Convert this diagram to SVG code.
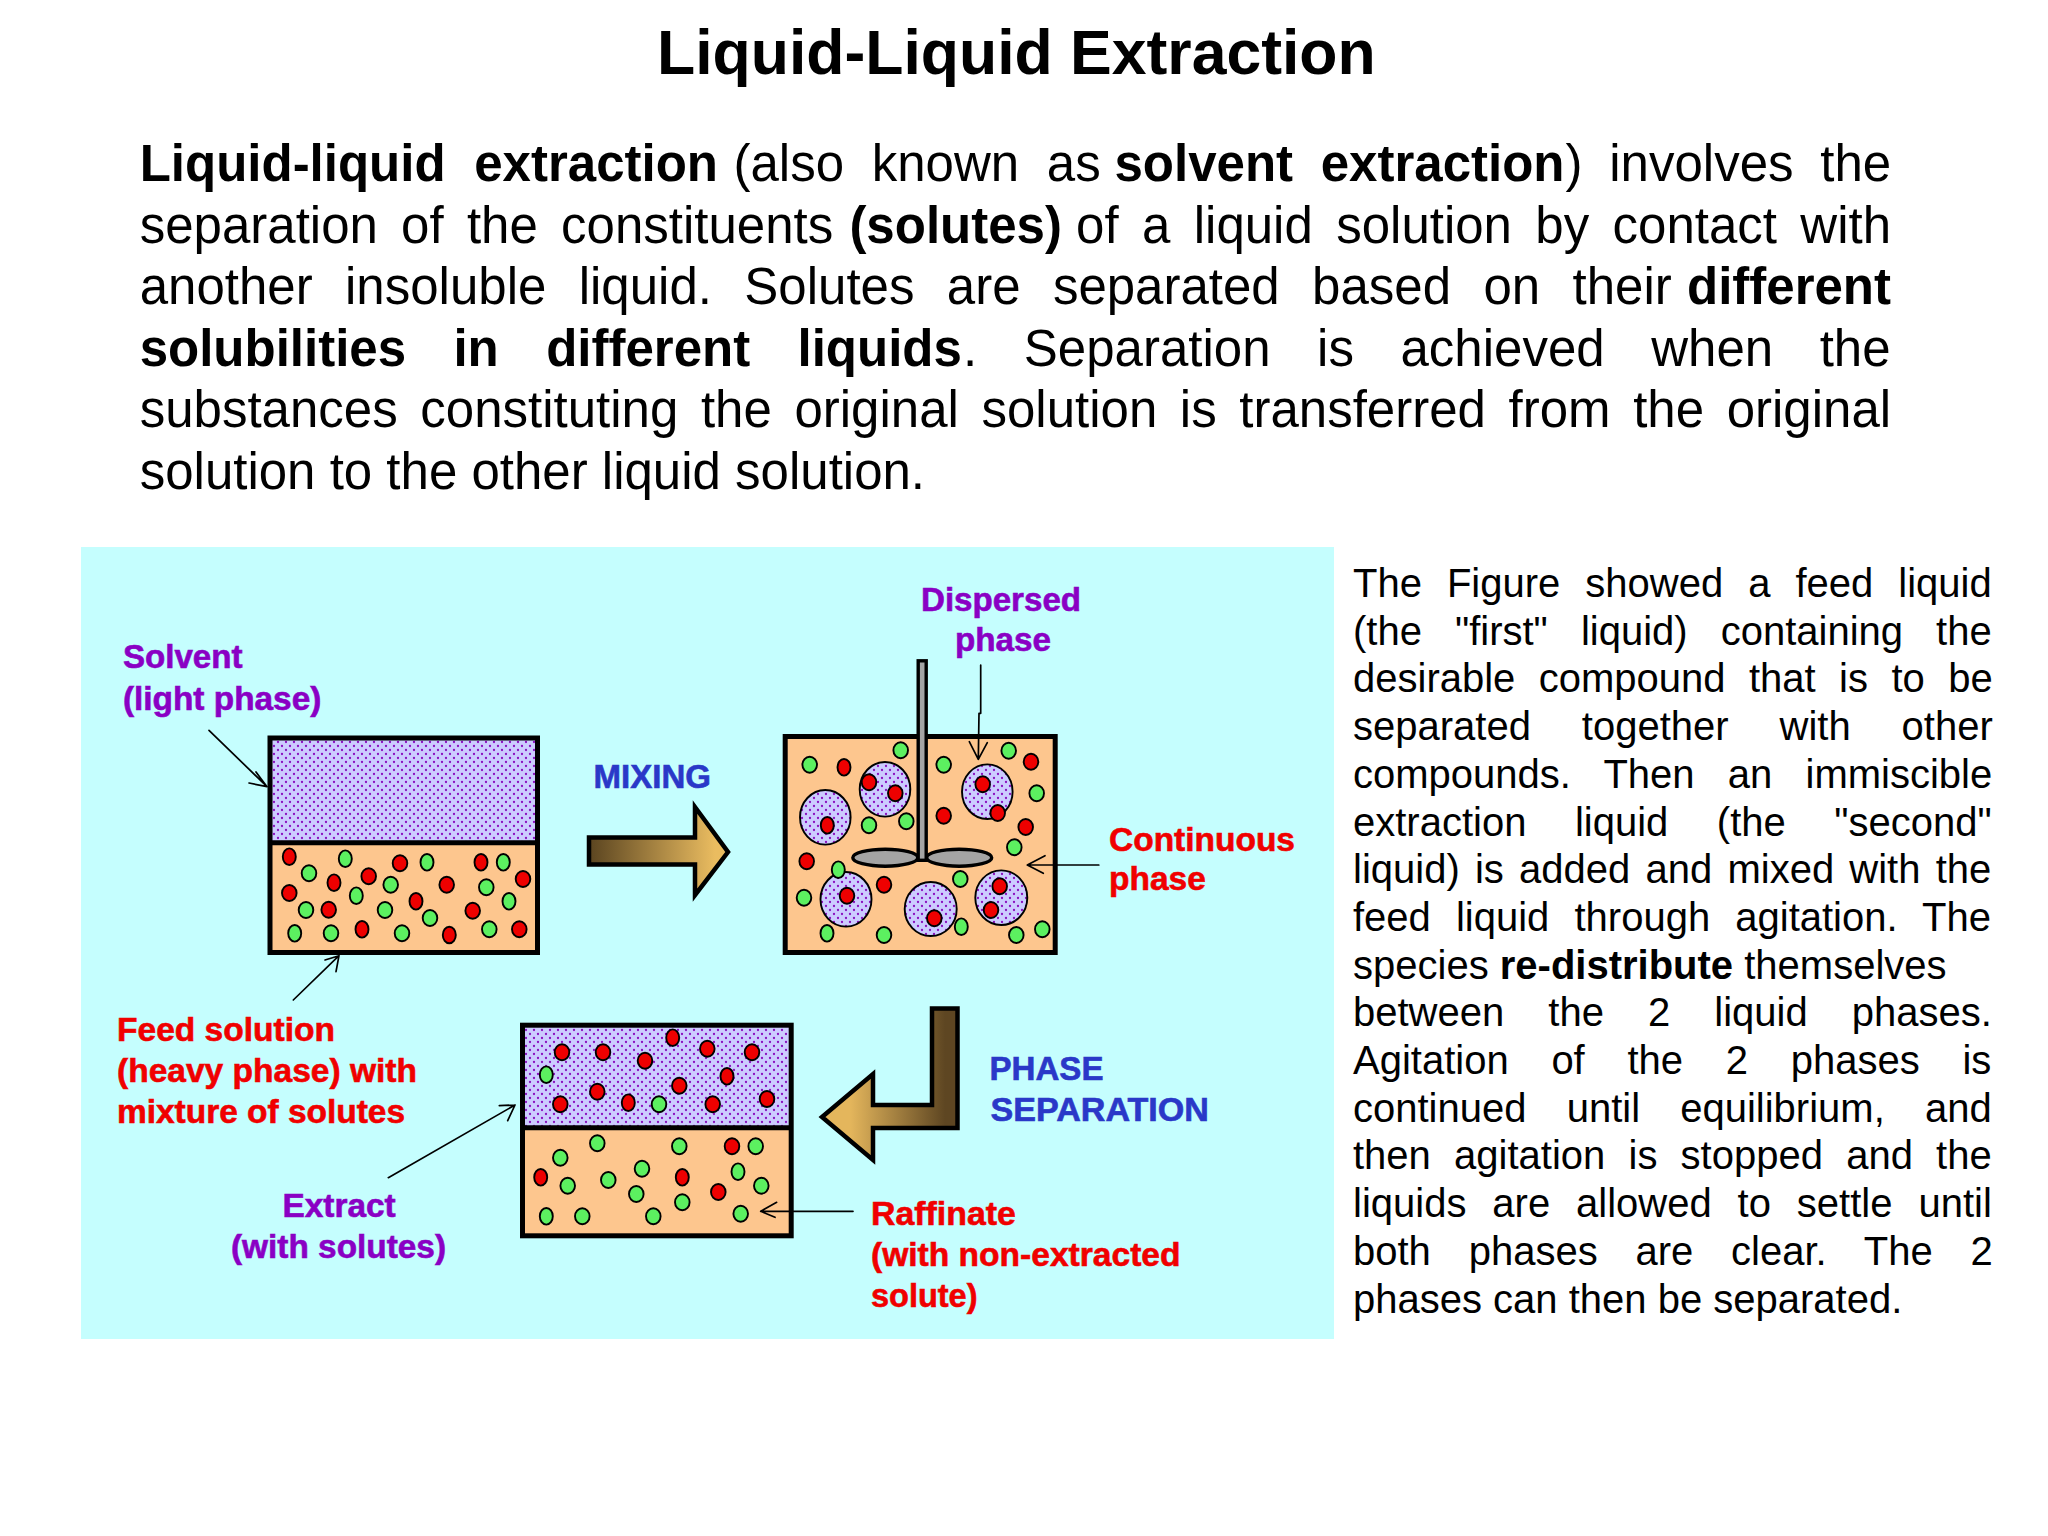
<svg xmlns="http://www.w3.org/2000/svg" xmlns:xlink="http://www.w3.org/1999/xlink" width="2048" height="1536" viewBox="0 0 2048 1536">
<style>
text{font-family:"Liberation Sans",Arial,sans-serif;white-space:pre}
.b{font-weight:700}
.m{font-size:51px;fill:#000}
.s{font-size:40px;fill:#000}
.t{font-size:62.5px;font-weight:700;fill:#000}
.l{font-size:33px;font-weight:700;stroke-width:.6}
.pu{fill:#8a00c4;stroke:#8a00c4}
.re{fill:#f00000;stroke:#f00000}
.bl{fill:#2a38c8;stroke:#2a38c8}
.r{fill:#ee0000;stroke:#000;stroke-width:1.9}
.g{fill:#5cf060;stroke:#000;stroke-width:1.9}
.frame{fill:none;stroke:#000;stroke-width:5}
.heavy{fill:#fdc68e}
.light{fill:url(#dots)}
.bub{fill:url(#dots);stroke:#000;stroke-width:1.9}
.steel{fill:#a4a4a4;stroke:#000;stroke-width:3.4}
.c{fill:none;stroke:#000;stroke-width:1.7;stroke-linecap:round;stroke-linejoin:round}
</style>
<defs>
<pattern id="dots" width="8" height="8" patternUnits="userSpaceOnUse">
<rect width="8" height="8" fill="#ccccff"/>
<circle cx="2" cy="2" r="1.15" fill="#8a10c0"/>
<circle cx="6" cy="6" r="1.15" fill="#8a10c0"/>
</pattern>
<linearGradient id="gm" gradientUnits="userSpaceOnUse" x1="589" y1="0" x2="715" y2="0">
<stop offset="0" stop-color="#5a4420"/><stop offset="1" stop-color="#eabc60"/>
</linearGradient>
<linearGradient id="gs" gradientUnits="userSpaceOnUse" x1="850" y1="0" x2="945" y2="0">
<stop offset="0" stop-color="#e4b65c"/><stop offset="1" stop-color="#5e4622"/>
</linearGradient>
<ellipse id="o" rx="7.3" ry="8"/>
<ellipse id="w" rx="6.5" ry="8.3"/>
</defs>
<rect width="2048" height="1536" fill="#fff"/>
<text id="title" class="t" x="657" y="74">Liquid-Liquid Extraction</text>
<g id="intro">
<text class="m" y="181"><tspan class="b" x="139.7" word-spacing="14.5">Liquid-liquid extraction</tspan><tspan x="733.5" word-spacing="13.5">(also known as</tspan><tspan class="b" x="1114.5" word-spacing="13.5">solvent extraction</tspan><tspan x="1565.5" word-spacing="12.6">) involves the</tspan></text>
<text class="m" y="242.8"><tspan x="139.7" word-spacing="9.1">separation of the constituents</tspan><tspan class="b" x="849.4">(solutes)</tspan><tspan x="1076.1" word-spacing="9.2">of a liquid solution by contact with</tspan></text>
<text class="m" y="304.2"><tspan x="139.7" word-spacing="18.2">another insoluble liquid. Solutes are separated based on their</tspan><tspan class="b" x="1687">different</tspan></text>
<text class="m" y="365.8"><tspan class="b" x="139.7" word-spacing="33.2">solubilities in different liquids</tspan><tspan x="963.1" word-spacing="32.4">. Separation is achieved when the</tspan></text>
<text class="m" x="139.7" y="427.2" word-spacing="8.45">substances constituting the original solution is transferred from the original</text>
<text class="m" x="139.7" y="488.6">solution to the other liquid solution.</text>
</g>
<g id="side-text">
<text class="s" x="1353" y="597" word-spacing="13.9">The Figure showed a feed liquid</text>
<text class="s" x="1353" y="644.7" word-spacing="21.95">(the "first" liquid) containing the</text>
<text class="s" x="1353" y="692.4" word-spacing="12.3">desirable compound that is to be</text>
<text class="s" x="1353" y="740.1" word-spacing="39.8">separated together with other</text>
<text class="s" x="1353" y="787.8" word-spacing="22.1">compounds. Then an immiscible</text>
<text class="s" x="1353" y="835.5" word-spacing="37.4">extraction liquid (the "second"</text>
<text class="s" x="1353" y="883.2" word-spacing="4.1">liquid) is added and mixed with the</text>
<text class="s" x="1353" y="930.9" word-spacing="14">feed liquid through agitation. The</text>
<text class="s" x="1353" y="978.6">species <tspan class="b">re-distribute</tspan> themselves</text>
<text class="s" x="1353" y="1026.3" word-spacing="32.95">between the 2 liquid phases.</text>
<text class="s" x="1353" y="1074" word-spacing="31.6">Agitation of the 2 phases is</text>
<text class="s" x="1353" y="1121.7" word-spacing="29.07">continued until equilibrium, and</text>
<text class="s" x="1353" y="1169.4" word-spacing="12.1">then agitation is stopped and the</text>
<text class="s" x="1353" y="1217.1" word-spacing="14.8">liquids are allowed to settle until</text>
<text class="s" x="1353" y="1264.8" word-spacing="26.7">both phases are clear. The 2</text>
<text class="s" x="1353" y="1312.5">phases can then be separated.</text>
</g>
<rect id="panel" x="81" y="547" width="1253" height="792" fill="#c5fefe"/>
<g id="vessel-feed">
<rect class="light" x="270" y="738" width="267.5" height="105"/>
<rect class="heavy" x="270" y="843" width="267.5" height="109.5"/>
<use href="#w" class="r" x="289.3" y="856.7"/><use href="#o" class="r" x="400" y="863.3"/><use href="#w" class="r" x="481" y="862.3"/><use href="#w" class="r" x="334" y="882.7"/><use href="#o" class="r" x="368.7" y="876.3"/><use href="#o" class="r" x="523" y="879"/><use href="#o" class="r" x="446.7" y="884.7"/><use href="#o" class="r" x="289.3" y="893"/><use href="#w" class="r" x="416" y="901.3"/><use href="#o" class="r" x="328.7" y="909.7"/><use href="#o" class="r" x="472.7" y="910.7"/><use href="#w" class="r" x="362" y="929.3"/><use href="#o" class="r" x="519.3" y="929.3"/><use href="#w" class="r" x="449.3" y="935"/>
<use href="#w" class="g" x="345.3" y="858.7"/><use href="#w" class="g" x="427" y="862.3"/><use href="#w" class="g" x="503.3" y="862.3"/><use href="#o" class="g" x="309" y="873.3"/><use href="#o" class="g" x="390.7" y="884.7"/><use href="#o" class="g" x="486.3" y="887.3"/><use href="#w" class="g" x="356.3" y="895.7"/><use href="#w" class="g" x="509" y="901.3"/><use href="#o" class="g" x="306" y="910"/><use href="#o" class="g" x="385" y="910"/><use href="#o" class="g" x="430" y="918"/><use href="#w" class="g" x="294.7" y="933.3"/><use href="#o" class="g" x="331" y="933.3"/><use href="#o" class="g" x="402" y="933.3"/><use href="#o" class="g" x="489.3" y="929.3"/>
<rect class="frame" x="270" y="738" width="267.5" height="214.5"/>
<path class="frame" d="M270 842.7H537.5"/>
</g>
<g id="vessel-mixer">
<rect class="heavy" x="785.2" y="736.5" width="270" height="216"/>
<ellipse class="bub" cx="885" cy="789.3" rx="25.3" ry="27.3"/><ellipse class="bub" cx="825.3" cy="817.3" rx="25.3" ry="27.3"/><ellipse class="bub" cx="987.3" cy="791.7" rx="25.3" ry="27.3"/><ellipse class="bub" cx="846" cy="899.3" rx="25.5" ry="27.3"/><ellipse class="bub" cx="930.7" cy="909" rx="26" ry="27"/><ellipse class="bub" cx="1001.3" cy="897.7" rx="26" ry="27.3"/>
<use href="#w" class="r" x="844" y="767.3"/><use href="#o" class="r" x="869" y="782.3"/><use href="#o" class="r" x="895.3" y="793.3"/><use href="#o" class="r" x="982.7" y="784.3"/><use href="#o" class="r" x="997.7" y="813"/><use href="#o" class="r" x="1031" y="761.7"/><use href="#o" class="r" x="943.7" y="815.7"/><use href="#o" class="r" x="1025.7" y="827"/><use href="#w" class="r" x="827.3" y="825.3"/><use href="#o" class="r" x="806.7" y="861.3"/><use href="#o" class="r" x="884" y="884.7"/><use href="#o" class="r" x="847" y="895.7"/><use href="#o" class="r" x="999.7" y="886.3"/><use href="#o" class="r" x="991" y="910"/><use href="#o" class="r" x="934.3" y="918.3"/>
<use href="#o" class="g" x="900.7" y="750.3"/><use href="#o" class="g" x="809.7" y="764.7"/><use href="#o" class="g" x="943.7" y="764.7"/><use href="#o" class="g" x="1008.7" y="750.7"/><use href="#o" class="g" x="1036.7" y="793.3"/><use href="#o" class="g" x="869" y="825.3"/><use href="#o" class="g" x="906.3" y="821.3"/><use href="#o" class="g" x="1014.3" y="847.3"/><use href="#w" class="g" x="838.3" y="869.7"/><use href="#o" class="g" x="960.3" y="879"/><use href="#o" class="g" x="804" y="897.7"/><use href="#w" class="g" x="827" y="933.3"/><use href="#o" class="g" x="884" y="935"/><use href="#w" class="g" x="961.3" y="926.7"/><use href="#o" class="g" x="1016.3" y="935"/><use href="#o" class="g" x="1042.3" y="929.3"/>
<rect class="frame" x="785.2" y="736.5" width="270" height="216"/>
<ellipse class="steel" cx="885.3" cy="857.7" rx="32.5" ry="8.5"/>
<ellipse class="steel" cx="959.2" cy="857.7" rx="32.5" ry="8.5"/>
<rect class="steel" x="918.2" y="660.8" width="8" height="199.5"/>
</g>
<g id="vessel-settled">
<rect class="light" x="522.5" y="1025.2" width="268.7" height="102.5"/>
<rect class="heavy" x="522.5" y="1127.7" width="268.7" height="108"/>
<use href="#o" class="r" x="562" y="1052.3"/><use href="#o" class="r" x="603" y="1052.3"/><use href="#o" class="r" x="645" y="1060.7"/><use href="#w" class="r" x="672.7" y="1037.7"/><use href="#o" class="r" x="707.3" y="1048.7"/><use href="#o" class="r" x="752" y="1052.3"/><use href="#w" class="r" x="727" y="1076.3"/><use href="#o" class="r" x="679.3" y="1085.7"/><use href="#o" class="r" x="597.3" y="1091.7"/><use href="#o" class="r" x="560.3" y="1104.3"/><use href="#w" class="r" x="628.3" y="1102.7"/><use href="#o" class="r" x="712.7" y="1104.3"/><use href="#o" class="r" x="767" y="1099"/><use href="#w" class="r" x="540.7" y="1177.3"/><use href="#w" class="r" x="682.3" y="1177.3"/><use href="#o" class="r" x="732" y="1146.3"/><use href="#o" class="r" x="718.3" y="1192"/>
<use href="#w" class="g" x="546.3" y="1074.7"/><use href="#o" class="g" x="659" y="1104.3"/><use href="#o" class="g" x="597.3" y="1143.3"/><use href="#o" class="g" x="679.3" y="1146.3"/><use href="#o" class="g" x="755.7" y="1146.3"/><use href="#o" class="g" x="560.3" y="1157.7"/><use href="#o" class="g" x="642" y="1168.7"/><use href="#w" class="g" x="738" y="1171.7"/><use href="#o" class="g" x="608.3" y="1180"/><use href="#o" class="g" x="567.7" y="1185.7"/><use href="#o" class="g" x="761.3" y="1185.7"/><use href="#o" class="g" x="636.3" y="1194"/><use href="#o" class="g" x="682.3" y="1202.3"/><use href="#w" class="g" x="546.3" y="1216.3"/><use href="#o" class="g" x="582.3" y="1216.3"/><use href="#o" class="g" x="653.3" y="1216.3"/><use href="#o" class="g" x="740.7" y="1213.7"/>
<rect class="frame" x="522.5" y="1025.2" width="268.7" height="210.6"/>
<path class="frame" d="M522.5 1127.7H791.2"/>
</g>
<g id="connectors">
<path class="c" d="M209 730.3L267 786.7M249 783L267 786.7L256 772"/>
<path class="c" d="M293.3 1000L339 955.7M325 960L339 955.7L336 971.7"/>
<path class="c" d="M980.7 665V713.3H979L978.3 759.3M969.3 741.7L978.3 759.3L987.3 742.7"/>
<path class="c" d="M1098.8 865H1027.3M1045 855.7L1027.3 865L1043.3 873.3"/>
<path class="c" d="M388.3 1177.7L515 1105M499.3 1105.7L515 1105L507.7 1120.7"/>
<path class="c" d="M853 1211.3H760.7M776.7 1202.3L760.7 1211.3L775 1217.3"/>
<path d="M589 837.5H695V807L728 852L695 895V864.5H589Z" fill="url(#gm)" stroke="#000" stroke-width="4.5" stroke-linejoin="miter"/>
<path d="M957.5 1008.5H932V1105H873V1074L822 1117L873 1160V1128H957.5Z" fill="url(#gs)" stroke="#000" stroke-width="4.5" stroke-linejoin="miter"/>
</g>
<g id="labels">
<text class="l pu" x="122.9" y="668.3" textLength="119.7" lengthAdjust="spacingAndGlyphs">Solvent</text>
<text class="l pu" x="122.9" y="709.5" textLength="198.5" lengthAdjust="spacingAndGlyphs">(light phase)</text>
<text class="l bl" x="593.5" y="787.7" textLength="117.5" lengthAdjust="spacingAndGlyphs">MIXING</text>
<text class="l pu" x="921" y="610.7" textLength="160" lengthAdjust="spacingAndGlyphs">Dispersed</text>
<text class="l pu" x="955" y="651" textLength="96" lengthAdjust="spacingAndGlyphs">phase</text>
<text class="l re" x="1109" y="850.7" textLength="186" lengthAdjust="spacingAndGlyphs">Continuous</text>
<text class="l re" x="1109" y="890" textLength="96.8" lengthAdjust="spacingAndGlyphs">phase</text>
<text class="l re" x="117" y="1040.7" textLength="218" lengthAdjust="spacingAndGlyphs">Feed solution</text>
<text class="l re" x="117" y="1081.7" textLength="300" lengthAdjust="spacingAndGlyphs">(heavy phase) with</text>
<text class="l re" x="117" y="1122.7" textLength="288" lengthAdjust="spacingAndGlyphs">mixture of solutes</text>
<text class="l pu" x="282.5" y="1217.3" textLength="113.2" lengthAdjust="spacingAndGlyphs">Extract</text>
<text class="l pu" x="231" y="1258.3" textLength="215" lengthAdjust="spacingAndGlyphs">(with solutes)</text>
<text class="l bl" x="989.5" y="1080" textLength="114" lengthAdjust="spacingAndGlyphs">PHASE</text>
<text class="l bl" x="990.5" y="1120.7" textLength="218.4" lengthAdjust="spacingAndGlyphs">SEPARATION</text>
<text class="l re" x="871" y="1225" textLength="144.8" lengthAdjust="spacingAndGlyphs">Raffinate</text>
<text class="l re" x="871" y="1265.7" textLength="309.5" lengthAdjust="spacingAndGlyphs">(with non-extracted</text>
<text class="l re" x="871" y="1306.7" textLength="106.5" lengthAdjust="spacingAndGlyphs">solute)</text>
</g>
</svg>
